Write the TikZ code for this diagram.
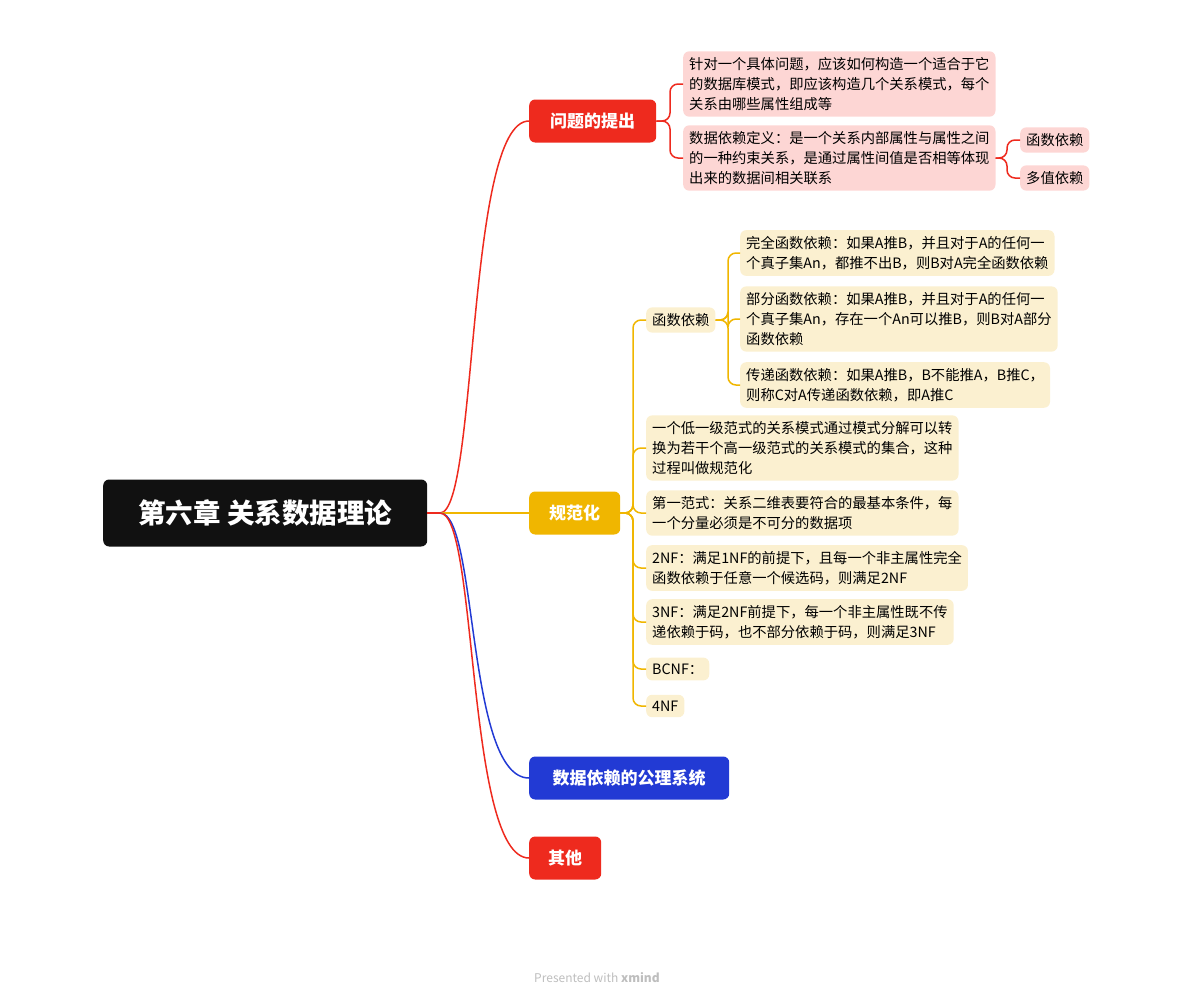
\documentclass[tikz,border=0pt]{standalone}
\usepackage{fontspec}
\setmainfont{Noto Sans CJK SC}
\usetikzlibrary{positioning}
\definecolor{rootblack}{RGB}{17,17,17}
\definecolor{mainred}{RGB}{238,42,30}
\definecolor{mainyellow}{RGB}{240,182,0}
\definecolor{mainblue}{RGB}{34,58,212}
\definecolor{palered}{RGB}{253,214,212}
\definecolor{paleyellow}{RGB}{251,240,208}
\definecolor{credit}{RGB}{190,190,190}
\tikzset{
	topic/.style={rounded corners=6, text=white, font=\fontsize{17}{20}\selectfont\bfseries, inner xsep=0pt, minimum height=43, anchor=west},
	leaf/.style={rounded corners=6, anchor=west, align=left, inner xsep=6, inner ysep=6, font=\fontsize{14.3}{20}\selectfont},
	redleaf/.style={leaf, fill=palered},
	yelleaf/.style={leaf, fill=paleyellow},
	branch/.style={line width=1.5pt},
	twig/.style={line width=1.5pt, rounded corners=8}
}
\begin{document}
\begin{tikzpicture}[x=1pt, y=-1pt]
	\useasboundingbox (0,0) rectangle (1192,1004);
	
	\node[fill=rootblack, rounded corners=6, text=white, font=\fontsize{27.5}{30}\selectfont\bfseries, minimum width=324, minimum height=67, anchor=west] (root) at (103,513) {第六章 关系数据理论};
	\coordinate (fork) at (440,513);
	
	\node[topic, fill=mainred, minimum width=127] (wenti) at (529,121) {问题的提出};
	\node[topic, fill=mainyellow, minimum width=91] (guifan) at (529,513) {规范化};
	\node[topic, fill=mainblue, minimum width=200] (gongli) at (529,778) {数据依赖的公理系统};
	\node[topic, fill=mainred, minimum width=72] (qita) at (529,858) {其他};
	
	% main branches
	\draw[branch, mainred] (root.east) -- (fork);
	\foreach \t/\c in {wenti/mainred, guifan/mainyellow, gongli/mainblue, qita/mainred}{
		\draw[branch, \c] (fork) .. controls (478,513) and (466,0|-\t.west) .. (\t.west);
	}
	
	% 问题的提出
	\node[redleaf, minimum width=310] (wt1) at (683,84) {针对一个具体问题，应该如何构造一个适合于它\\的数据库模式，即应该构造几个关系模式，每个\\关系由哪些属性组成等};
	\node[redleaf, minimum width=310] (wt2) at (683,158) {数据依赖定义：是一个关系内部属性与属性之间\\的一种约束关系，是通过属性间值是否相等体现\\出来的数据间相关联系};
	\node[redleaf] (hsyl) at (1020,140) {函数依赖};
	\node[redleaf] (dzyl) at (1020,178) {多值依赖};
	\foreach \t in {wt1, wt2}{
		\draw[twig, mainred] (wenti.east) -- (670,121) |- (\t.west);
	}
	\foreach \t in {hsyl, dzyl}{
		\draw[twig, mainred] (wt2.east) -- (1007,158) |- (\t.west);
	}
	
	% 规范化
	\node[yelleaf] (hanshu) at (646,320) {函数依赖};
	\node[yelleaf] (wanquan) at (740,253) {完全函数依赖：如果A推B，并且对于A的任何一\\个真子集An，都推不出B，则B对A完全函数依赖};
	\node[yelleaf] (bufen) at (740,319) {部分函数依赖：如果A推B，并且对于A的任何一\\个真子集An，存在一个An可以推B，则B对A部分\\函数依赖};
	\node[yelleaf] (chuandi) at (740,385) {传递函数依赖：如果A推B，B不能推A，B推C，\\则称C对A传递函数依赖，即A推C};
	\node[yelleaf] (dingyi) at (646,448) {一个低一级范式的关系模式通过模式分解可以转\\换为若干个高一级范式的关系模式的集合，这种\\过程叫做规范化};
	\node[yelleaf] (nf1) at (646,513) {第一范式：关系二维表要符合的最基本条件，每\\一个分量必须是不可分的数据项};
	\node[yelleaf] (nf2) at (646,568) {2NF：满足1NF的前提下，且每一个非主属性完全\\函数依赖于任意一个候选码，则满足2NF};
	\node[yelleaf] (nf3) at (646,622) {3NF：满足2NF前提下，每一个非主属性既不传\\递依赖于码，也不部分依赖于码，则满足3NF};
	\node[yelleaf] (bcnf) at (646,669) {BCNF：};
	\node[yelleaf] (nf4) at (646,706) {4NF};
	\foreach \t in {hanshu, dingyi, nf1, nf2, nf3, bcnf, nf4}{
		\draw[twig, mainyellow] (guifan.east) -- (633,513) |- (\t.west);
	}
	\foreach \t in {wanquan, bufen, chuandi}{
		\draw[twig, mainyellow] (hanshu.east) -- (728,320) |- (\t.west);
	}
	
	\node[text=credit, font=\fontsize{12}{14}\selectfont] (xmind) at (597,978) {Presented with \textbf{xmind}};
\end{tikzpicture}
\end{document}
